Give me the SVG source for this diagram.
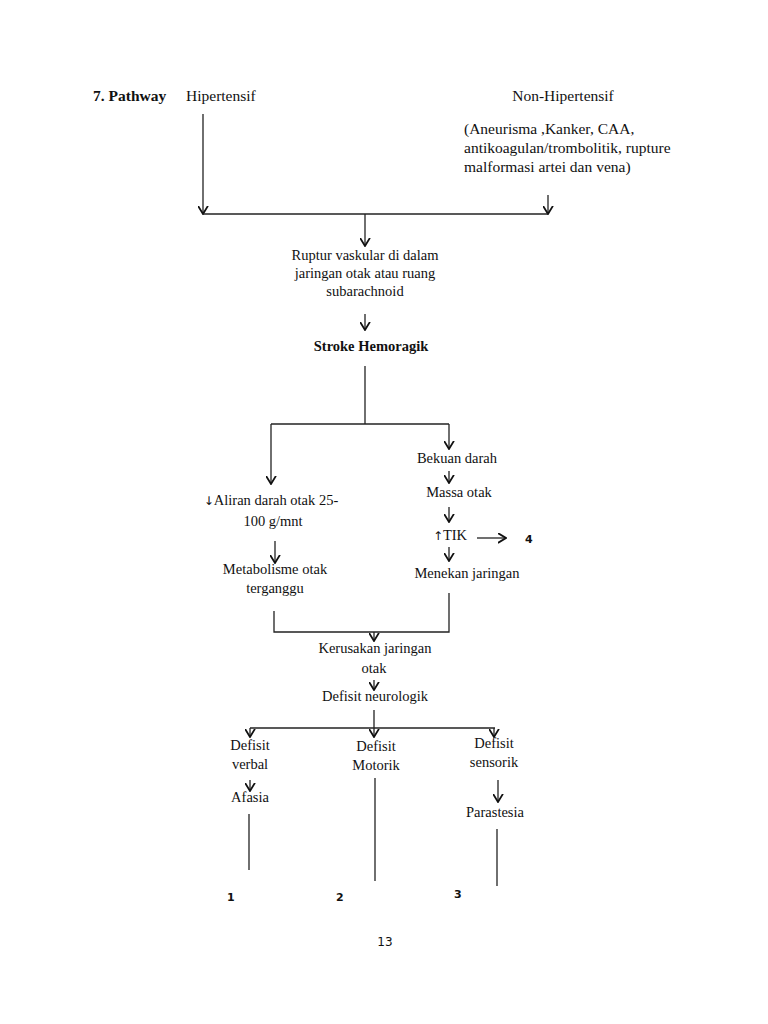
<svg xmlns="http://www.w3.org/2000/svg" width="768" height="1024" viewBox="0 0 768 1024">
<style>
.t{font-family:"Liberation Serif","Times New Roman",serif;font-size:14.5px;fill:#111;text-anchor:middle}
.h{font-size:15.5px}
.l{text-anchor:start}
.b{font-weight:bold}
.ar{font-family:"DejaVu Sans",sans-serif;font-size:12px;fill:#111}
.n{font-family:"DejaVu Sans","Liberation Sans",sans-serif;font-size:11px;font-weight:bold;fill:#111}
.c line,.c path{stroke:#222;stroke-width:1.3;fill:none}
</style>
<defs>
<marker id="ah" viewBox="0 0 10 12" refX="9" refY="6" markerWidth="9" markerHeight="11" markerUnits="userSpaceOnUse" orient="auto">
<path d="M0,0.5 L9,6 L0,11.5" fill="none" stroke="#111" stroke-width="2"/>
</marker>
</defs>
<rect width="768" height="1024" fill="#fff"/>
<g id="title"><text class="t h l b" x="93" y="101">7. Pathway</text></g>
<g id="hipertensif"><text class="t h l" x="186" y="101">Hipertensif</text></g>
<g id="nonhipertensif"><text class="t h" x="563" y="101">Non-Hipertensif</text>
<text class="t h l" x="464" y="134">(Aneurisma ,Kanker, CAA,</text>
<text class="t h l" x="464" y="153">antikoagulan/trombolitik, rupture</text>
<text class="t h l" x="464" y="172">malformasi artei dan vena)</text></g>
<g id="ruptur"><text class="t" x="365" y="260">Ruptur vaskular di dalam</text>
<text class="t" x="365" y="278">jaringan otak atau ruang</text>
<text class="t" x="365" y="296">subarachnoid</text></g>
<g id="stroke"><text class="t b" x="371" y="351">Stroke Hemoragik</text></g>
<g id="bekuan"><text class="t" x="457" y="463">Bekuan darah</text></g>
<g id="massa"><text class="t" x="459" y="497">Massa otak</text></g>
<g id="tik"><text class="t" x="450" y="540"><tspan class="ar">↑</tspan>TIK</text></g>
<g id="n4"><text class="n" x="525" y="543">4</text></g>
<g id="menekan"><text class="t" x="467" y="578">Menekan jaringan</text></g>
<g id="aliran"><text class="t" x="271" y="505"><tspan class="ar">↓</tspan>Aliran darah otak 25-</text>
<text class="t" x="273" y="526">100 g/mnt</text></g>
<g id="metabolisme"><text class="t" x="275" y="574">Metabolisme otak</text>
<text class="t" x="275" y="593">terganggu</text></g>
<g id="kerusakan"><text class="t" x="375" y="653">Kerusakan jaringan</text>
<text class="t" x="374" y="673">otak</text></g>
<g id="neurologik"><text class="t" x="375" y="701">Defisit neurologik</text></g>
<g id="verbal"><text class="t" x="250" y="750">Defisit</text><text class="t" x="250" y="769">verbal</text></g>
<g id="motorik"><text class="t" x="376" y="751">Defisit</text><text class="t" x="376" y="770">Motorik</text></g>
<g id="sensorik"><text class="t" x="494" y="748">Defisit</text><text class="t" x="494" y="767">sensorik</text></g>
<g id="afasia"><text class="t" x="250" y="802">Afasia</text></g>
<g id="parastesia"><text class="t" x="495" y="817">Parastesia</text></g>
<g id="n1"><text class="n" x="227" y="901">1</text></g>
<g id="n2"><text class="n" x="336" y="901">2</text></g>
<g id="n3"><text class="n" x="454" y="898">3</text></g>
<g id="page"><text class="n" x="385" y="946" style="font-weight:normal;font-size:12px;text-anchor:middle">13</text></g>
<g id="connectors" class="c">
<line x1="203" y1="114" x2="203" y2="214" marker-end="url(#ah)"/>
<line x1="548" y1="195" x2="548" y2="214" marker-end="url(#ah)"/>
<line x1="203" y1="214" x2="548" y2="214"/>
<line x1="365" y1="214" x2="365" y2="246" marker-end="url(#ah)"/>
<line x1="365" y1="314" x2="365" y2="330" marker-end="url(#ah)"/>
<line x1="365" y1="366" x2="365" y2="424"/>
<line x1="271" y1="424" x2="449" y2="424"/>
<line x1="271" y1="424" x2="271" y2="484" marker-end="url(#ah)"/>
<line x1="449" y1="424" x2="449" y2="449" marker-end="url(#ah)"/>
<line x1="449" y1="471" x2="449" y2="483" marker-end="url(#ah)"/>
<line x1="449" y1="507" x2="449" y2="522" marker-end="url(#ah)"/>
<line x1="449" y1="547" x2="449" y2="561" marker-end="url(#ah)"/>
<line x1="477" y1="538" x2="506" y2="538" marker-end="url(#ah)"/>
<line x1="275" y1="541" x2="275" y2="563" marker-end="url(#ah)"/>
<path d="M274,611 L274,632 L449,632 L449,593"/>
<line x1="374" y1="632" x2="374" y2="641" marker-end="url(#ah)"/>
<line x1="374" y1="680" x2="374" y2="690" marker-end="url(#ah)"/>
<line x1="374" y1="710" x2="374" y2="737" marker-end="url(#ah)"/>
<line x1="250" y1="728" x2="495" y2="728"/>
<line x1="250" y1="728" x2="250" y2="737" marker-end="url(#ah)"/>
<line x1="494" y1="728" x2="494" y2="737" marker-end="url(#ah)"/>
<line x1="250" y1="780" x2="250" y2="791" marker-end="url(#ah)"/>
<line x1="375" y1="778" x2="375" y2="881"/>
<line x1="498" y1="780" x2="498" y2="802" marker-end="url(#ah)"/>
<line x1="249" y1="814" x2="249" y2="870"/>
<line x1="497" y1="829" x2="497" y2="886"/>
</g>
</svg>
